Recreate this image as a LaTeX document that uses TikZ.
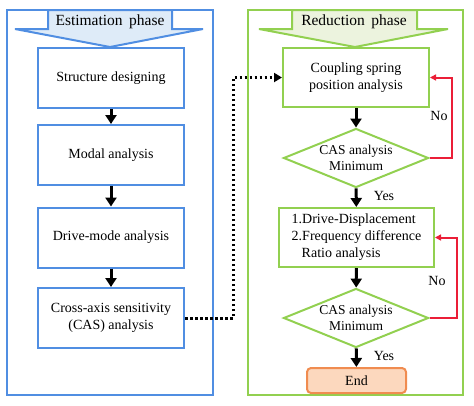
\documentclass[tikz,border=0pt]{standalone}
\usepackage{fontspec}
\setmainfont{Liberation Serif}
\usetikzlibrary{shapes,arrows.meta,positioning,calc}
\definecolor{estblue}{RGB}{80,142,226}
\definecolor{estfill}{RGB}{222,235,248}
\definecolor{redgreen}{RGB}{146,208,80}
\definecolor{redfill}{RGB}{236,243,222}
\definecolor{endline}{RGB}{240,140,80}
\definecolor{endfill}{RGB}{252,216,190}
\definecolor{loopred}{RGB}{235,30,55}
\tikzset{
  txt/.style={font=\fontsize{14}{17}\selectfont},
  estbox/.style={txt,draw=estblue,line width=2pt,minimum width=146pt,minimum height=60pt,inner sep=2pt,align=center},
  redbox/.style={txt,draw=redgreen,line width=2pt,minimum width=146pt,minimum height=59pt,inner sep=2pt,align=center},
  check/.style={diamond,draw=redgreen,line width=2pt,minimum width=145pt,minimum height=59pt,inner xsep=0pt,inner ysep=-4pt,aspect=2.46,align=center,font=\fontsize{13.5}{16}\selectfont},
  endbox/.style={txt,draw=endline,fill=endfill,line width=2pt,rounded corners=4pt,minimum width=99pt,minimum height=25pt,inner sep=1pt},
  flow/.style={line width=3pt,-{Triangle[length=9pt,width=11pt]}},
  link/.style={line width=3pt,dash pattern=on 2.5pt off 2.5pt,-{Triangle[length=8pt,width=9pt]}},
  back/.style={loopred,line width=2pt,-{Triangle[length=6pt,width=6pt]}},
  phase/.style={font=\fontsize{15.5}{18}\selectfont}
}
\begin{document}
\begin{tikzpicture}[x=1pt,y=-1pt]
\useasboundingbox (0,0) rectangle (474,405);
% Phase frames
\draw[estblue,line width=2.5pt] (7,10) rectangle (213,395);
\draw[redgreen,line width=2.5pt] (248,10) rectangle (463,395);
% Headers
\draw[estblue,line width=2pt,fill=estfill] (48,10) -- (48,29) -- (15,29) -- (110,47) -- (203,29) -- (172,29) -- (172,10) -- cycle;
\draw[redgreen,line width=2pt,fill=redfill] (292,10) -- (292,29) -- (259,29) -- (355,47) -- (448,29) -- (417,29) -- (417,10) -- cycle;
\node[phase] (est) at (110,22) {Estimation\, phase};
\node[phase] (red) at (354,22) {Reduction\, phase};
% Estimation steps
\node[estbox] (design) at (111,78) {Structure designing};
\node[estbox] (modal) at (111,155) {Modal analysis};
\node[estbox] (drive) at (111,237.5) {Drive-mode analysis};
\node[estbox] (cas) at (111,318) {Cross-axis sensitivity\\(CAS) analysis};
% Reduction steps
\node[redbox] (spring) at (356,77.5) {Coupling spring\\position analysis};
\node[check] (min1) at (356,158) {CAS analysis\\Minimum};
\node[redbox,minimum width=155pt,align=left] (ratio) at (356.5,237.5) {1.Drive-Displacement\\2.Frequency difference\\\hspace{10pt}Ratio analysis};
\node[check] (min2) at (356,318) {CAS analysis\\Minimum};
\node[endbox] (end) at (356.5,380.5) {End};
% Arrows
\draw[flow] (design) -- (modal);
\draw[flow] (modal) -- (drive);
\draw[flow] (drive) -- (cas);
\draw[flow] (spring) -- (min1);
\draw[flow] (min1) -- (ratio);
\draw[flow] (ratio) -- (min2);
\draw[flow] (min2) -- (end);
\draw[link] (cas.east) -- ++(48,0) |- (spring.west);
% Loops
\draw[back] (min1.east) -- ++(22,0) |- (spring.east);
\draw[back] (min2.east) -- ++(27,0) |- (ratio.east);
% Labels
\node[txt] (no1) at (439,116) {No};
\node[txt] (no2) at (437,281) {No};
\node[txt] (yes1) at (384,196) {Yes};
\node[txt] (yes2) at (384,356) {Yes};
\end{tikzpicture}
\end{document}
